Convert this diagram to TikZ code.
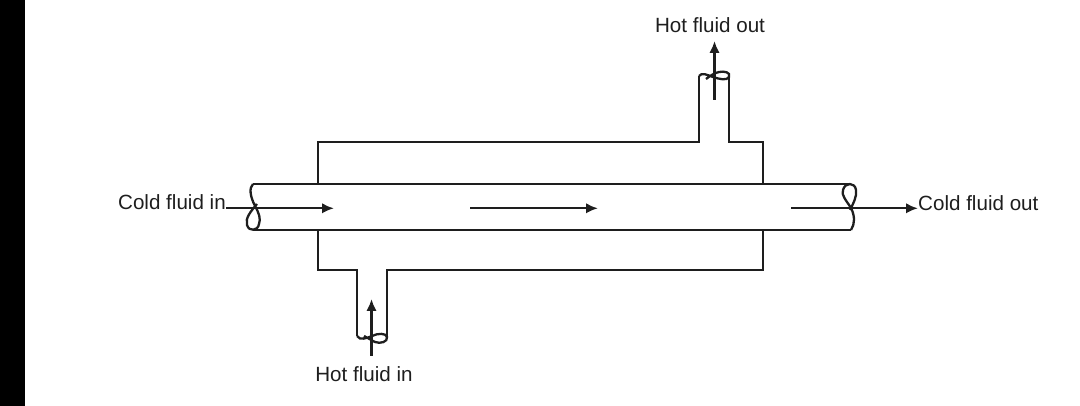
\documentclass[tikz,border=0pt]{standalone}
\usepackage{fontspec}
\setmainfont{Liberation Sans}
\usetikzlibrary{arrows.meta}
\definecolor{ink}{HTML}{1E1E1E}
\tikzset{
  wall/.style={draw=ink,line width=2.3pt,line join=miter},
  flow/.style={draw=ink,line width=2.3pt,-{Latex[length=12pt,width=10.5pt]}},
  lab/.style={font=\fontsize{20.6pt}{24pt}\selectfont,text=ink,inner sep=0pt}
}
\begin{document}
\begin{tikzpicture}[x=1pt,y=-1pt]
\useasboundingbox (0,0) rectangle (1080,406);
\fill[black] (0,0) rectangle (25,406);
% inner pipe
\draw[wall] (253,184) -- (850,184);
\draw[wall] (253,230) -- (851,230);
% shell
\draw[wall] (318,184) -- (318,142) -- (699,142) -- (699,76);
\draw[wall] (729,76) -- (729,142) -- (763,142) -- (763,184);
\draw[wall] (318,230) -- (318,270) -- (357,270) -- (357,336);
\draw[wall] (387,336) -- (387,270) -- (763,270) -- (763,230);
% break marks
\draw[wall] (253,184) .. controls (249,188) and (250,196) .. (255,206)
  .. controls (259,213) and (261,219) .. (259,224)
  .. controls (258,231) and (249,232) .. (247,225)
  .. controls (245,218) and (251,211) .. (257,204);
\draw[wall] (851,230) .. controls (855,224) and (855,216) .. (851,208)
  .. controls (846,200) and (841,195) .. (843,190)
  .. controls (845,182) and (855,182) .. (856,190)
  .. controls (857,197) and (853,204) .. (850,210);
\draw[wall] (699,76) .. controls (702,72) and (707,75) .. (713,77)
  .. controls (719,79) and (727,81) .. (729,77)
  .. controls (731,72) and (724,71) .. (719,72)
  .. controls (714,73) and (710,76) .. (706,79);
\draw[wall] (357,336) .. controls (360,341) and (367,338) .. (372,336)
  .. controls (378,333) and (386,333) .. (387,337)
  .. controls (388,342) and (380,344) .. (375,342)
  .. controls (371,340) and (368,338) .. (364,336);
% labels
\node[lab,anchor=east] (coldin) at (226,202.5) {Cold fluid in};
\node[lab,anchor=west] (coldout) at (918,203) {Cold fluid out};
\node[lab] (hotout) at (710,25) {Hot fluid out};
\node[lab] (hotin) at (364,374) {Hot fluid in};
% flow arrows
\coordinate (a1) at (226,208.3);
\coordinate (a2) at (334,208.3);
\coordinate (b1) at (470,208.3);
\coordinate (b2) at (598,208.3);
\coordinate (c1) at (791,208.3);
\coordinate (c2) at (918,208.3);
\coordinate (d1) at (714.5,100);
\coordinate (d2) at (714.5,41);
\coordinate (e1) at (371.5,356);
\coordinate (e2) at (371.5,299);
\draw[flow] (a1) -- (a2);
\draw[flow] (b1) -- (b2);
\draw[flow] (c1) -- (c2);
\draw[flow] (d1) -- (d2);
\draw[flow] (e1) -- (e2);
\end{tikzpicture}
\end{document}
